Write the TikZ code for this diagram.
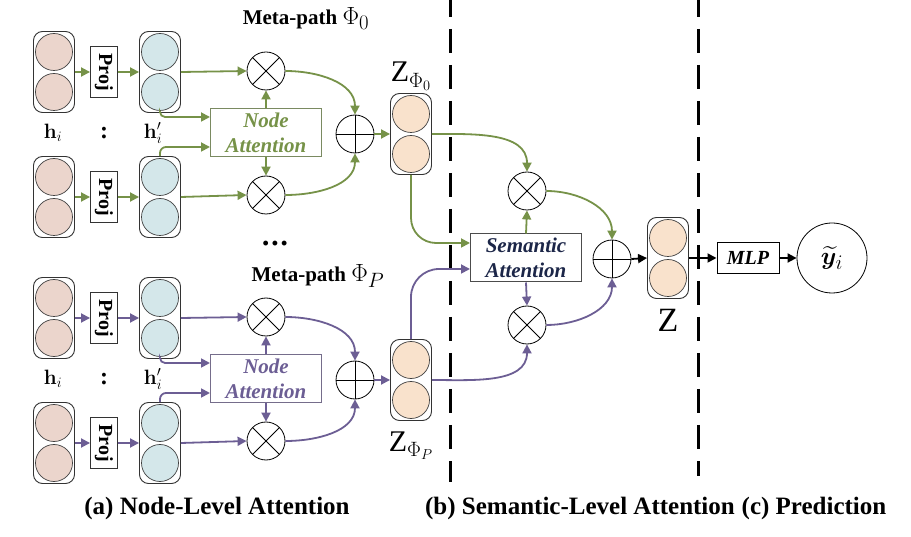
\documentclass[tikz,border=0pt]{standalone}
\usepackage{amsmath}
\usepackage{bm}
\usepackage[no-math]{fontspec}
\setmainfont{Liberation Serif}
\usepackage{graphicx}
\usepackage{xcolor}
\usetikzlibrary{arrows.meta}

\definecolor{pathgreen}{RGB}{118,146,72}
\definecolor{pathpurple}{RGB}{108,94,148}
\definecolor{inpink}{RGB}{235,213,204}
\definecolor{projblue}{RGB}{212,231,234}
\definecolor{outpeach}{RGB}{249,226,204}
\definecolor{semnavy}{RGB}{28,38,72}

% feature vector: name, x, y, fill
\newcommand{\featvec}[4]{%
  \node[vec] (#1) at (#2,#3) {};
  \node[dot,fill=#4] at (#2,{#3+20}) {};
  \node[dot,fill=#4] at (#2,{#3-20}) {};
}

\begin{document}
\begin{tikzpicture}[x=1pt,y=1pt,
  vec/.style={draw=black!80,line width=0.9pt,rounded corners=9pt,minimum width=41pt,minimum height=81pt,inner sep=0pt},
  dot/.style={circle,draw=black!75,line width=0.7pt,minimum size=37pt,inner sep=0pt},
  projbox/.style={draw=black!80,line width=0.9pt,minimum width=27pt,minimum height=51pt,inner sep=0pt,font=\fontsize{20}{20}\selectfont\bfseries},
  attbox/.style={draw,line width=1pt,minimum width=111pt,minimum height=48pt,inner sep=0pt,align=center,font=\fontsize{21}{25}\selectfont\bfseries\itshape},
  mult/.style={circle,draw,line width=0.8pt,minimum size=38pt,inner sep=0pt,
    path picture={\draw[line width=0.8pt] (path picture bounding box.north west)--(path picture bounding box.south east)
      (path picture bounding box.south west)--(path picture bounding box.north east);}},
  plus/.style={circle,draw,line width=0.8pt,minimum size=38pt,inner sep=0pt,
    path picture={\draw[line width=0.8pt] (path picture bounding box.north)--(path picture bounding box.south)
      (path picture bounding box.west)--(path picture bounding box.east);}},
  arr/.style={-{Triangle[length=9pt,width=9pt]},line width=1.8pt},
  sep/.style={line width=3pt,dash pattern=on 24pt off 12pt,dash phase=7pt},
  lbl/.style={font=\fontsize{22}{22}\selectfont,inner sep=1pt},
  caption/.style={font=\fontsize{25}{25}\selectfont\bfseries}]
\useasboundingbox (0,0) rectangle (911,-537);

% separators
\coordinate (sepa) at (450,0);
\coordinate (sepb) at (698,0);
\draw[sep] (sepa) -- ++(0,-482);
\draw[sep] (sepb) -- ++(0,-476);

% node-level attention, one row per meta-path
\foreach \g/\dy/\col in {0/0/pathgreen,P/246/pathpurple}{
\begin{scope}[yshift=-\dy pt]
  \featvec{h\g1}{54}{-72}{inpink}
  \node[projbox] (p\g1) at (104,-72) {\rotatebox{-90}{Proj}};
  \featvec{hp\g1}{160}{-72}{projblue}
  \featvec{h\g2}{54}{-197}{inpink}
  \node[projbox] (p\g2) at (104,-197) {\rotatebox{-90}{Proj}};
  \featvec{hp\g2}{160}{-197}{projblue}
  \node[lbl] (hl\g) at (53,-133) {$\mathbf{h}_i$};
  \node[lbl,font=\fontsize{24}{24}\selectfont\bfseries] (vd\g) at (104,-133) {:};
  \node[lbl] (hpl\g) at (153,-133) {$\mathbf{h}'_i$};
  \node[mult] (m\g1) at (266,-71) {};
  \node[attbox,draw=\col!55!gray,text=\col] (na\g) at (266,-133) {Node\\Attention};
  \node[mult] (m\g2) at (266,-195) {};
  \node[plus] (s\g) at (355,-134) {};
  \featvec{z\g}{411}{-134}{outpeach}
  \draw[arr,color=\col] (h\g1.east) -- (p\g1.west);
  \draw[arr,color=\col] (p\g1.east) -- (hp\g1.west);
  \draw[arr,color=\col] (h\g2.east) -- (p\g2.west);
  \draw[arr,color=\col] (p\g2.east) -- (hp\g2.west);
  \draw[arr,color=\col] (hp\g1.east) -- (m\g1.west);
  \draw[arr,color=\col] (hp\g2.east) -- (m\g2.west);
  \draw[arr,color=\col,rounded corners=5pt] (hp\g1.south) |- ([yshift=16pt]na\g.west);
  \draw[arr,color=\col,rounded corners=6pt] (hp\g2.north) |- ([yshift=-14pt]na\g.west);
  \draw[arr,color=\col] (na\g.north) -- (m\g1.south);
  \draw[arr,color=\col] (na\g.south) -- (m\g2.north);
  \draw[arr,color=\col] (m\g1.east) to[out=0,in=90] (s\g.north);
  \draw[arr,color=\col] (m\g2.east) to[out=0,in=-90] (s\g.south);
  \draw[arr,color=\col] (s\g.east) -- (z\g.west);
\end{scope}}

\node[anchor=base,font=\fontsize{21}{21}\selectfont\bfseries] (mp0) at (306,-25) {Meta-path {\fontsize{32}{32}\selectfont$\Phi_0$}};
\node[anchor=base,font=\fontsize{21}{21}\selectfont\bfseries] (mpP) at (318,-282) {Meta-path {\fontsize{32}{32}\selectfont$\Phi_P$}};
\node[font=\fontsize{18}{18}\selectfont\bfseries] (more) at (275,-245) {\textbullet\,\textbullet\,\textbullet};
\node[anchor=base,font=\fontsize{30}{30}\selectfont] (zl0) at (411,-82) {Z$_{\Phi_0}$};
\node[anchor=base,font=\fontsize{30}{30}\selectfont] (zlP) at (411,-451) {Z$_{\Phi_P}$};

% semantic-level attention
\node[mult] (m3) at (527,-191) {};
\node[attbox,draw=black!70,text=semnavy] (sa) at (526,-258) {Semantic\\Attention};
\node[mult] (m4) at (527,-325) {};
\node[plus] (s3) at (612,-259) {};
\featvec{zz}{668}{-258}{outpeach}
\node[anchor=base,font=\fontsize{34}{34}\selectfont] (zl) at (668,-332) {Z};

\draw[arr,pathgreen] (z0.east) to[out=0,in=90] (m3.north);
\draw[arr,pathgreen,rounded corners=25pt] (z0.south) |- ([yshift=15pt]sa.west);
\draw[arr,pathpurple,rounded corners=28pt] (zP.north) |- ([yshift=-11pt]sa.west);
\draw[arr,pathpurple] (zP.east) to[out=0,in=-90] (m4.south);
\draw[arr,pathgreen] (sa.north) -- (m3.south);
\draw[arr,pathpurple] (sa.south) -- (m4.north);
\draw[arr,pathgreen] (m3.east) to[out=0,in=90] (s3.north);
\draw[arr,pathpurple] (m4.east) to[out=0,in=-90] (s3.south);
\draw[arr,black] (s3.east) -- (zz.west);

% prediction
\node[draw,line width=1pt,minimum width=62pt,minimum height=31pt,inner sep=0pt,font=\fontsize{20}{20}\selectfont\bfseries\itshape] (mlp) at (748,-258) {MLP};
\node[circle,draw,line width=0.8pt,minimum size=70pt,inner sep=0pt,font=\fontsize{29}{29}\selectfont] (yi) at (832,-258) {$\widetilde{\bm{y}}_i$};
\draw[arr,black] (zz.east) -- (mlp.west);
\draw[arr,black] (mlp.east) -- (yi.west);

\node[caption] (capa) at (217,-508) {(a) Node-Level Attention};
\node[caption] (capb) at (580,-508) {(b) Semantic-Level Attention};
\node[caption] (capc) at (814,-508) {(c) Prediction};
\end{tikzpicture}
\end{document}
